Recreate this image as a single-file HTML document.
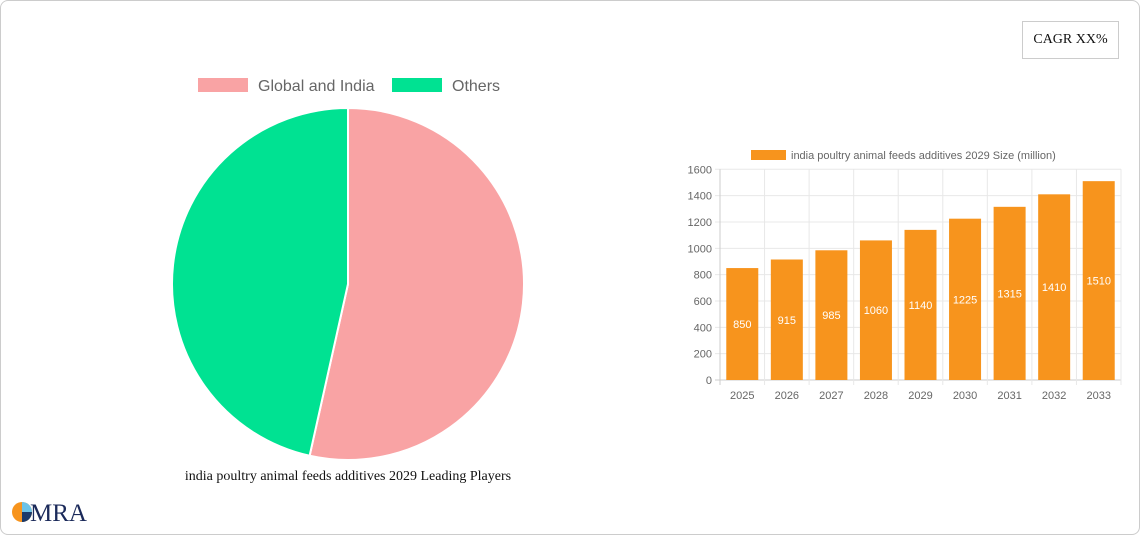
<!DOCTYPE html>
<html><head><meta charset="utf-8"><style>
body{margin:0;background:#fff;font-family:"Liberation Sans",sans-serif}
#frame{position:absolute;left:0;top:0;width:1138px;height:533px;border:1px solid #ccc;border-radius:8px;background:#fff}
#cagr{position:absolute;left:1022px;top:21px;width:97px;height:38px;border:1px solid #ccc;box-sizing:border-box;font-family:"Liberation Serif",serif;font-size:14px;line-height:36px;text-align:center;color:#111}
</style></head><body>
<div id="frame"></div>
<div id="cagr">CAGR XX%</div>
<svg width="1140" height="535" style="position:absolute;left:0;top:0" id="svg">
<g id="pie"></g>
<g id="bar"></g>
<g>
<circle cx="22" cy="512" r="10" fill="#f7941d"/>
<path d="M22 512 L22 502 A10 10 0 0 1 32 512 Z" fill="#6cc3e8"/>
<path d="M22 512 L32 512 A10 10 0 0 1 22 522 Z" fill="#1b3a6b"/>
<text x="30" y="521" font-family="Liberation Serif,serif" font-size="25" fill="#1b2a5a">MRA</text>
</g>
</svg>
<script>
const pieLabels=["Global and India","Others"];
const pieValues=[53.5,46.5];
const pieColors=["#f9a3a4","#00e292"];
const years=["2025","2026","2027","2028","2029","2030","2031","2032","2033"];
const sizes=[850,915,985,1060,1140,1225,1315,1410,1510];
const yTicks=[0,200,400,600,800,1000,1200,1400,1600];
const NS="http://www.w3.org/2000/svg";
function mk(p,t,a,txt){const e=document.createElementNS(NS,t);for(const k in a)e.setAttribute(k,a[k]);if(txt!==undefined)e.textContent=txt;p.appendChild(e);return e;}
const pie=document.getElementById('pie');
const cx=348,cy=284,r=176;
const tot=pieValues.reduce((a,b)=>a+b,0);
let ang=0;
pieValues.forEach((v,i)=>{
 const a0=ang,a1=ang+v/tot*2*Math.PI;ang=a1;
 const x0=cx+r*Math.sin(a0),y0=cy-r*Math.cos(a0),x1=cx+r*Math.sin(a1),y1=cy-r*Math.cos(a1);
 const p=mk(pie,'path',{d:`M${cx},${cy}L${x0},${y0}A${r},${r} 0 ${a1-a0>Math.PI?1:0} 1 ${x1},${y1}Z`,fill:pieColors[i],stroke:'#fff','stroke-width':2});
 
 
});
let lx=198;
pieLabels.forEach((l,i)=>{
 const g=mk(pie,'g',{});
 
 
 mk(g,'rect',{x:lx,y:78,width:50,height:14,fill:pieColors[i]});
 mk(g,'text',{x:lx+60,y:91,'font-size':16,fill:'#666'},l);
 lx+= i==0?194:0;
});
const pt=mk(pie,'text',{x:348,y:480,'text-anchor':'middle','font-family':'Liberation Serif,serif','font-size':14,fill:'#111'},'india poultry animal feeds additives 2029 Leading Players');


const bar=document.getElementById('bar');
const L=720,R=1121,T=169.3,B=380,ymax=1600;
const ys=v=>B-(v/ymax)*(B-T);
const bw=(R-L)/years.length;
yTicks.forEach(t=>{
 mk(bar,'line',{x1:L-5,x2:R,y1:ys(t),y2:ys(t),stroke:t==0?'#ccc':'#e8e8e8'});
 const tx=mk(bar,'text',{x:L-8,y:ys(t)+4,'text-anchor':'end','font-size':11,fill:'#666'},t);
 
 
});
for(let i=0;i<=years.length;i++)mk(bar,'line',{x1:L+i*bw,x2:L+i*bw,y1:T,y2:B+5,stroke:i==0?'#ccc':'#e8e8e8'});
years.forEach((y,i)=>{
 const x=L+i*bw+(bw-32)/2;
 const rc=mk(bar,'rect',{x:x,y:ys(sizes[i]),width:32,height:B-ys(sizes[i]),fill:'#f7941d'});
 
 
 mk(bar,'text',{x:x+16,y:(ys(sizes[i])+B)/2+4,'text-anchor':'middle','font-size':11,fill:'#fff'},sizes[i]);
 const xl=mk(bar,'text',{x:L+i*bw+bw/2,y:399,'text-anchor':'middle','font-size':11,fill:'#666'},y);
 
 
});
const lg=mk(bar,'g',{});


mk(lg,'rect',{x:751,y:150,width:35,height:10,fill:'#f7941d'});
mk(lg,'text',{x:791,y:159,'font-size':11,fill:'#666'},'india poultry animal feeds additives 2029 Size (million)');
</script>
</body></html>
